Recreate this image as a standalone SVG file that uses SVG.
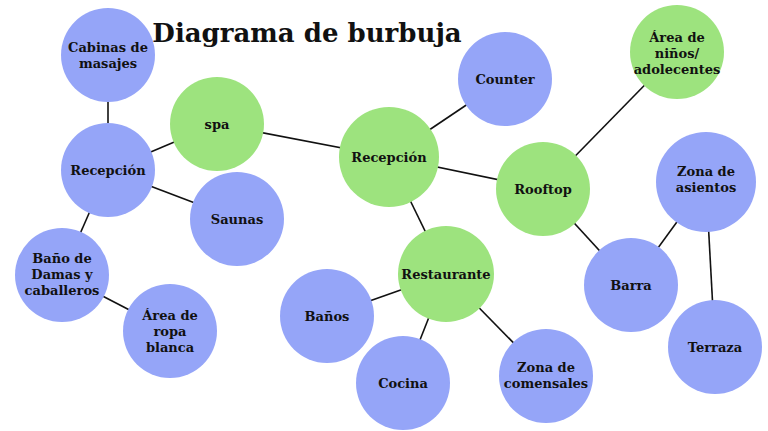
<svg xmlns="http://www.w3.org/2000/svg" width="768" height="431" viewBox="0 0 768 431">
<style>
.b{fill:#95a5f8}.g{fill:#9de37e}
text{font-family:"DejaVu Serif","Liberation Serif",serif;font-weight:bold;font-size:13px;fill:#111;text-anchor:middle}
.t{font-size:26px}
line{stroke:#111;stroke-width:1.6}
</style>
<rect width="768" height="431" fill="#fff"/>
<text class="t" x="307" y="42">Diagrama de burbuja</text>
<g id="connectors">
<line x1="108" y1="55" x2="108" y2="170"/>
<line x1="217" y1="124" x2="108" y2="170"/>
<line x1="108" y1="170" x2="237" y2="219"/>
<line x1="108" y1="170" x2="62" y2="275"/>
<line x1="62" y1="275" x2="170" y2="331"/>
<line x1="217" y1="124" x2="389" y2="157"/>
<line x1="389" y1="157" x2="505" y2="79"/>
<line x1="389" y1="157" x2="543" y2="189"/>
<line x1="389" y1="157" x2="446" y2="274"/>
<line x1="446" y1="274" x2="327" y2="316"/>
<line x1="446" y1="274" x2="403" y2="383"/>
<line x1="446" y1="274" x2="546" y2="376"/>
<line x1="543" y1="189" x2="677" y2="52"/>
<line x1="543" y1="189" x2="631" y2="285"/>
<line x1="631" y1="285" x2="706" y2="182"/>
<line x1="706" y1="182" x2="715" y2="347"/>
</g>
<g id="cabinas"><circle class="b" cx="108" cy="55" r="47"/><text x="108" y="52">Cabinas de</text><text x="108" y="68">masajes</text></g>
<g id="spa"><circle class="g" cx="217" cy="124" r="47"/><text x="217" y="129">spa</text></g>
<g id="recepcion1"><circle class="b" cx="108" cy="170" r="47"/><text x="108" y="175">Recepción</text></g>
<g id="saunas"><circle class="b" cx="237" cy="219" r="47"/><text x="237" y="224">Saunas</text></g>
<g id="bano"><circle class="b" cx="62" cy="275" r="47"/><text x="62" y="263">Baño de</text><text x="62" y="279">Damas y</text><text x="62" y="295">caballeros</text></g>
<g id="ropa"><circle class="b" cx="170" cy="331" r="47"/><text x="170" y="320">Área de</text><text x="170" y="336">ropa</text><text x="170" y="352">blanca</text></g>
<g id="recepcion2"><circle class="g" cx="389" cy="157" r="50"/><text x="389" y="162">Recepción</text></g>
<g id="counter"><circle class="b" cx="505" cy="79" r="47"/><text x="505" y="84">Counter</text></g>
<g id="rooftop"><circle class="g" cx="543" cy="189" r="47"/><text x="543" y="194">Rooftop</text></g>
<g id="ninos"><circle class="g" cx="677" cy="52" r="47"/><text x="677" y="42">Área de</text><text x="677" y="58">niños/</text><text x="677" y="74">adolecentes</text></g>
<g id="asientos"><circle class="b" cx="706" cy="182" r="50"/><text x="706" y="176">Zona de</text><text x="706" y="192">asientos</text></g>
<g id="barra"><circle class="b" cx="631" cy="285" r="47"/><text x="631" y="290">Barra</text></g>
<g id="terraza"><circle class="b" cx="715" cy="347" r="47"/><text x="715" y="352">Terraza</text></g>
<g id="restaurante"><circle class="g" cx="446" cy="274" r="48"/><text x="446" y="279">Restaurante</text></g>
<g id="banos"><circle class="b" cx="327" cy="316" r="47"/><text x="327" y="321">Baños</text></g>
<g id="cocina"><circle class="b" cx="403" cy="383" r="47"/><text x="403" y="388">Cocina</text></g>
<g id="comensales"><circle class="b" cx="546" cy="376" r="47"/><text x="546" y="372">Zona de</text><text x="546" y="388">comensales</text></g>
</svg>
